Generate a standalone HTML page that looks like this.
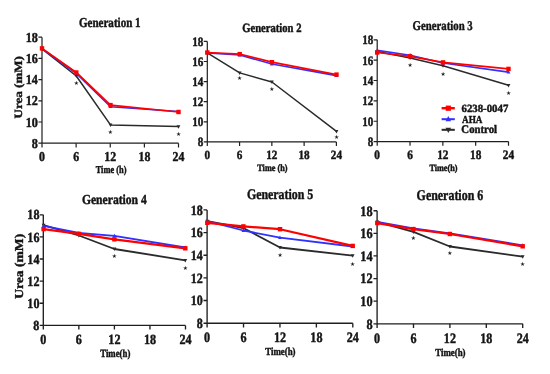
<!DOCTYPE html>
<html><head><meta charset="utf-8"><title>Urea generations</title><style>
html,body{margin:0;padding:0;background:#fff;}
svg{display:block;} text{text-rendering:geometricPrecision;}
text{font-family:"Liberation Serif",serif;font-weight:bold;fill:#141414;stroke:#141414;stroke-width:0.45px;stroke-linejoin:round;}
text.st{font-family:"DejaVu Sans",sans-serif;font-weight:normal;fill:#1e1e1e;stroke:none;}
</style></head><body>
<svg width="550" height="374" viewBox="0 0 550 374">
<rect width="550" height="374" fill="#fff"/>
<path d="M42.0,37.2V143.2M42.0,143.2H178.5" stroke="#1f1f1f" stroke-width="1.2" fill="none"/>
<path d="M38.40,37.20H42.0M38.40,58.40H42.0M38.40,79.60H42.0M38.40,100.80H42.0M38.40,122.00H42.0M38.40,143.20H42.0M42.00,143.2V147.40M76.12,143.2V147.40M110.25,143.2V147.40M144.38,143.2V147.40M178.50,143.2V147.40" stroke="#1f1f1f" stroke-width="1.2" fill="none"/>
<text transform="translate(37.93,41.82) scale(0.89,1)" text-anchor="end" font-size="13.7">18</text>
<text transform="translate(37.93,63.02) scale(0.89,1)" text-anchor="end" font-size="13.7">16</text>
<text transform="translate(37.93,84.22) scale(0.89,1)" text-anchor="end" font-size="13.7">14</text>
<text transform="translate(37.93,105.42) scale(0.89,1)" text-anchor="end" font-size="13.7">12</text>
<text transform="translate(37.93,126.62) scale(0.89,1)" text-anchor="end" font-size="13.7">10</text>
<text transform="translate(37.93,147.82) scale(0.89,1)" text-anchor="end" font-size="13.7">8</text>
<text transform="translate(42.00,160.98) scale(0.88,1)" text-anchor="middle" font-size="13.5">0</text>
<text transform="translate(76.12,160.98) scale(0.88,1)" text-anchor="middle" font-size="13.5">6</text>
<text transform="translate(110.25,160.98) scale(0.88,1)" text-anchor="middle" font-size="13.5">12</text>
<text transform="translate(144.38,160.98) scale(0.88,1)" text-anchor="middle" font-size="13.5">18</text>
<text transform="translate(178.50,160.98) scale(0.88,1)" text-anchor="middle" font-size="13.5">24</text>
<text transform="translate(78.95,26.76) scale(0.813,1)" font-size="13.58">Generation 1</text>
<text transform="translate(95.67,173.30) scale(0.797,1)" font-size="10.53">Time (h)</text>
<polyline points="42.0,48.8 76.3,76.0 110.5,124.9 178.5,126.6" stroke="#2a2a2a" stroke-width="1.5" fill="none" stroke-linejoin="round"/>
<polyline points="42.0,48.6 76.3,73.5 110.5,106.7 178.5,111.5" stroke="#3030ff" stroke-width="1.6" fill="none" stroke-linejoin="round"/>
<polyline points="42.0,48.4 76.3,72.5 110.5,105.1 178.5,112.0" stroke="#ff0000" stroke-width="1.75" fill="none" stroke-linejoin="round"/>
<path d="M40.10,47.38L43.90,47.38L42.00,50.89Z" fill="#2a2a2a"/>
<path d="M74.40,74.58L78.20,74.58L76.30,78.09Z" fill="#2a2a2a"/>
<path d="M108.60,123.48L112.40,123.48L110.50,126.99Z" fill="#2a2a2a"/>
<path d="M176.60,125.17L180.40,125.17L178.50,128.69Z" fill="#2a2a2a"/>
<path d="M42.00,46.51L43.90,50.02L40.10,50.02Z" fill="#3030ff"/>
<path d="M76.30,71.41L78.20,74.92L74.40,74.92Z" fill="#3030ff"/>
<path d="M110.50,104.61L112.40,108.12L108.60,108.12Z" fill="#3030ff"/>
<path d="M178.50,109.41L180.40,112.92L176.60,112.92Z" fill="#3030ff"/>
<rect x="39.80" y="46.20" width="4.40" height="4.40" fill="#ff0000"/>
<rect x="74.10" y="70.30" width="4.40" height="4.40" fill="#ff0000"/>
<rect x="108.30" y="102.90" width="4.40" height="4.40" fill="#ff0000"/>
<rect x="176.30" y="109.80" width="4.40" height="4.40" fill="#ff0000"/>
<text class="st" x="73.69" y="85.28" font-size="5.79">★</text>
<text class="st" x="107.79" y="134.18" font-size="5.79">★</text>
<text class="st" x="175.89" y="135.78" font-size="5.79">★</text>
<path d="M207.3,41.4V141.9M207.3,141.9H336.4" stroke="#1f1f1f" stroke-width="1.2" fill="none"/>
<path d="M203.70,41.40H207.3M203.70,61.50H207.3M203.70,81.60H207.3M203.70,101.70H207.3M203.70,121.80H207.3M203.70,141.90H207.3M207.30,141.9V146.10M239.57,141.9V146.10M271.85,141.9V146.10M304.12,141.9V146.10M336.40,141.9V146.10" stroke="#1f1f1f" stroke-width="1.2" fill="none"/>
<text transform="translate(203.39,45.72) scale(0.87,1)" text-anchor="end" font-size="12.8">18</text>
<text transform="translate(203.39,65.82) scale(0.87,1)" text-anchor="end" font-size="12.8">16</text>
<text transform="translate(203.39,85.92) scale(0.87,1)" text-anchor="end" font-size="12.8">14</text>
<text transform="translate(203.39,106.02) scale(0.87,1)" text-anchor="end" font-size="12.8">12</text>
<text transform="translate(203.39,126.12) scale(0.87,1)" text-anchor="end" font-size="12.8">10</text>
<text transform="translate(203.39,146.22) scale(0.87,1)" text-anchor="end" font-size="12.8">8</text>
<text transform="translate(207.30,158.98) scale(0.89,1)" text-anchor="middle" font-size="12.6">0</text>
<text transform="translate(239.57,158.98) scale(0.89,1)" text-anchor="middle" font-size="12.6">6</text>
<text transform="translate(271.85,158.98) scale(0.89,1)" text-anchor="middle" font-size="12.6">12</text>
<text transform="translate(304.12,158.98) scale(0.89,1)" text-anchor="middle" font-size="12.6">18</text>
<text transform="translate(336.40,158.98) scale(0.89,1)" text-anchor="middle" font-size="12.6">24</text>
<text transform="translate(242.17,31.77) scale(0.837,1)" font-size="12.69">Generation 2</text>
<text transform="translate(257.28,170.80) scale(0.840,1)" font-size="9.77">Time (h)</text>
<polyline points="207.3,52.8 239.7,72.9 271.9,82.0 336.5,131.4" stroke="#2a2a2a" stroke-width="1.5" fill="none" stroke-linejoin="round"/>
<polyline points="207.3,52.9 239.7,55.0 271.9,64.0 336.5,75.6" stroke="#3030ff" stroke-width="1.6" fill="none" stroke-linejoin="round"/>
<polyline points="207.3,52.5 239.7,54.1 271.9,62.2 336.5,74.6" stroke="#ff0000" stroke-width="1.75" fill="none" stroke-linejoin="round"/>
<path d="M205.40,51.38L209.20,51.38L207.30,54.89Z" fill="#2a2a2a"/>
<path d="M237.80,71.48L241.60,71.48L239.70,74.99Z" fill="#2a2a2a"/>
<path d="M270.00,80.58L273.80,80.58L271.90,84.09Z" fill="#2a2a2a"/>
<path d="M334.60,129.97L338.40,129.97L336.50,133.49Z" fill="#2a2a2a"/>
<path d="M207.30,50.81L209.20,54.32L205.40,54.32Z" fill="#3030ff"/>
<path d="M239.70,52.91L241.60,56.42L237.80,56.42Z" fill="#3030ff"/>
<path d="M271.90,61.91L273.80,65.42L270.00,65.42Z" fill="#3030ff"/>
<path d="M336.50,73.51L338.40,77.02L334.60,77.02Z" fill="#3030ff"/>
<rect x="205.10" y="50.30" width="4.40" height="4.40" fill="#ff0000"/>
<rect x="237.50" y="51.90" width="4.40" height="4.40" fill="#ff0000"/>
<rect x="269.70" y="60.00" width="4.40" height="4.40" fill="#ff0000"/>
<rect x="334.30" y="72.40" width="4.40" height="4.40" fill="#ff0000"/>
<text class="st" x="237.09" y="80.48" font-size="5.79">★</text>
<text class="st" x="269.29" y="91.38" font-size="5.79">★</text>
<text class="st" x="333.89" y="139.18" font-size="5.79">★</text>
<path d="M377.2,39.8V141.6M377.2,141.6H508.5" stroke="#1f1f1f" stroke-width="1.2" fill="none"/>
<path d="M373.60,39.80H377.2M373.60,60.16H377.2M373.60,80.52H377.2M373.60,100.88H377.2M373.60,121.24H377.2M373.60,141.60H377.2M377.20,141.6V145.80M410.02,141.6V145.80M442.85,141.6V145.80M475.68,141.6V145.80M508.50,141.6V145.80" stroke="#1f1f1f" stroke-width="1.2" fill="none"/>
<text transform="translate(373.39,44.19) scale(0.85,1)" text-anchor="end" font-size="13.0">18</text>
<text transform="translate(373.39,64.55) scale(0.85,1)" text-anchor="end" font-size="13.0">16</text>
<text transform="translate(373.39,84.91) scale(0.85,1)" text-anchor="end" font-size="13.0">14</text>
<text transform="translate(373.39,105.27) scale(0.85,1)" text-anchor="end" font-size="13.0">12</text>
<text transform="translate(373.39,125.63) scale(0.85,1)" text-anchor="end" font-size="13.0">10</text>
<text transform="translate(373.39,145.99) scale(0.85,1)" text-anchor="end" font-size="13.0">8</text>
<text transform="translate(377.20,159.05) scale(0.87,1)" text-anchor="middle" font-size="13.0">0</text>
<text transform="translate(410.02,159.05) scale(0.87,1)" text-anchor="middle" font-size="13.0">6</text>
<text transform="translate(442.85,159.05) scale(0.87,1)" text-anchor="middle" font-size="13.0">12</text>
<text transform="translate(475.68,159.05) scale(0.87,1)" text-anchor="middle" font-size="13.0">18</text>
<text transform="translate(508.50,159.05) scale(0.87,1)" text-anchor="middle" font-size="13.0">24</text>
<text transform="translate(412.56,30.22) scale(0.807,1)" font-size="13.36">Generation 3</text>
<text transform="translate(429.38,170.80) scale(0.865,1)" font-size="9.47">Time(h)</text>
<polyline points="377.2,51.5 410.1,58.0 443.0,65.7 508.5,85.3" stroke="#2a2a2a" stroke-width="1.5" fill="none" stroke-linejoin="round"/>
<polyline points="377.2,50.4 410.1,55.2 443.0,63.0 508.5,72.1" stroke="#3030ff" stroke-width="1.6" fill="none" stroke-linejoin="round"/>
<polyline points="377.2,52.5 410.1,56.3 443.0,62.4 508.5,68.9" stroke="#ff0000" stroke-width="1.75" fill="none" stroke-linejoin="round"/>
<path d="M375.30,50.08L379.10,50.08L377.20,53.59Z" fill="#2a2a2a"/>
<path d="M408.20,56.58L412.00,56.58L410.10,60.09Z" fill="#2a2a2a"/>
<path d="M441.10,64.28L444.90,64.28L443.00,67.79Z" fill="#2a2a2a"/>
<path d="M506.60,83.88L510.40,83.88L508.50,87.39Z" fill="#2a2a2a"/>
<path d="M377.20,48.31L379.10,51.82L375.30,51.82Z" fill="#3030ff"/>
<path d="M410.10,53.11L412.00,56.62L408.20,56.62Z" fill="#3030ff"/>
<path d="M443.00,60.91L444.90,64.42L441.10,64.42Z" fill="#3030ff"/>
<path d="M508.50,70.01L510.40,73.52L506.60,73.52Z" fill="#3030ff"/>
<rect x="375.00" y="50.30" width="4.40" height="4.40" fill="#ff0000"/>
<rect x="407.90" y="54.10" width="4.40" height="4.40" fill="#ff0000"/>
<rect x="440.80" y="60.20" width="4.40" height="4.40" fill="#ff0000"/>
<rect x="506.30" y="66.70" width="4.40" height="4.40" fill="#ff0000"/>
<text class="st" x="407.49" y="66.88" font-size="5.79">★</text>
<text class="st" x="440.39" y="76.08" font-size="5.79">★</text>
<text class="st" x="505.89" y="94.58" font-size="5.79">★</text>
<path d="M43.3,214.8V325.4M43.3,325.4H185.5" stroke="#1f1f1f" stroke-width="1.35" fill="none"/>
<path d="M39.70,214.80H43.3M39.70,236.92H43.3M39.70,259.04H43.3M39.70,281.16H43.3M39.70,303.28H43.3M39.70,325.40H43.3M43.30,325.4V329.60M78.85,325.4V329.60M114.40,325.4V329.60M149.95,325.4V329.60M185.50,325.4V329.60" stroke="#1f1f1f" stroke-width="1.35" fill="none"/>
<text transform="translate(39.42,219.49) scale(0.87,1)" text-anchor="end" font-size="13.9">18</text>
<text transform="translate(39.42,241.61) scale(0.87,1)" text-anchor="end" font-size="13.9">16</text>
<text transform="translate(39.42,263.73) scale(0.87,1)" text-anchor="end" font-size="13.9">14</text>
<text transform="translate(39.42,285.85) scale(0.87,1)" text-anchor="end" font-size="13.9">12</text>
<text transform="translate(39.42,307.97) scale(0.87,1)" text-anchor="end" font-size="13.9">10</text>
<text transform="translate(39.42,330.09) scale(0.87,1)" text-anchor="end" font-size="13.9">8</text>
<text transform="translate(43.30,343.68) scale(0.86,1)" text-anchor="middle" font-size="14.1">0</text>
<text transform="translate(78.85,343.68) scale(0.86,1)" text-anchor="middle" font-size="14.1">6</text>
<text transform="translate(114.40,343.68) scale(0.86,1)" text-anchor="middle" font-size="14.1">12</text>
<text transform="translate(149.95,343.68) scale(0.86,1)" text-anchor="middle" font-size="14.1">18</text>
<text transform="translate(185.50,343.68) scale(0.86,1)" text-anchor="middle" font-size="14.1">24</text>
<text transform="translate(81.92,203.96) scale(0.847,1)" font-size="13.73">Generation 4</text>
<text transform="translate(100.17,356.70) scale(0.802,1)" font-size="10.99">Time(h)</text>
<polyline points="43.6,225.2 78.9,235.5 114.4,249.0 185.3,260.3" stroke="#2a2a2a" stroke-width="1.8" fill="none" stroke-linejoin="round"/>
<polyline points="43.6,225.9 78.9,233.0 114.4,235.9 185.3,247.5" stroke="#3030ff" stroke-width="1.8" fill="none" stroke-linejoin="round"/>
<polyline points="43.6,229.1 78.9,233.9 114.4,239.3 185.3,248.3" stroke="#ff0000" stroke-width="2.2" fill="none" stroke-linejoin="round"/>
<path d="M41.70,223.77L45.50,223.77L43.60,227.29Z" fill="#2a2a2a"/>
<path d="M77.00,234.07L80.80,234.07L78.90,237.59Z" fill="#2a2a2a"/>
<path d="M112.50,247.57L116.30,247.57L114.40,251.09Z" fill="#2a2a2a"/>
<path d="M183.40,258.88L187.20,258.88L185.30,262.39Z" fill="#2a2a2a"/>
<path d="M43.60,223.81L45.50,227.33L41.70,227.33Z" fill="#3030ff"/>
<path d="M78.90,230.91L80.80,234.43L77.00,234.43Z" fill="#3030ff"/>
<path d="M114.40,233.81L116.30,237.33L112.50,237.33Z" fill="#3030ff"/>
<path d="M185.30,245.41L187.20,248.93L183.40,248.93Z" fill="#3030ff"/>
<rect x="41.40" y="226.90" width="4.40" height="4.40" fill="#ff0000"/>
<rect x="76.70" y="231.70" width="4.40" height="4.40" fill="#ff0000"/>
<rect x="112.20" y="237.10" width="4.40" height="4.40" fill="#ff0000"/>
<rect x="183.10" y="246.10" width="4.40" height="4.40" fill="#ff0000"/>
<text class="st" x="111.79" y="258.38" font-size="5.79">★</text>
<text class="st" x="182.69" y="269.58" font-size="5.79">★</text>
<path d="M207.1,209.9V323.2M207.1,323.2H352.8" stroke="#1f1f1f" stroke-width="1.35" fill="none"/>
<path d="M203.50,209.90H207.1M203.50,232.56H207.1M203.50,255.22H207.1M203.50,277.88H207.1M203.50,300.54H207.1M203.50,323.20H207.1M207.10,323.2V327.40M243.53,323.2V327.40M279.95,323.2V327.40M316.38,323.2V327.40M352.80,323.2V327.40" stroke="#1f1f1f" stroke-width="1.35" fill="none"/>
<text transform="translate(202.82,214.69) scale(0.85,1)" text-anchor="end" font-size="14.2">18</text>
<text transform="translate(202.82,237.35) scale(0.85,1)" text-anchor="end" font-size="14.2">16</text>
<text transform="translate(202.82,260.01) scale(0.85,1)" text-anchor="end" font-size="14.2">14</text>
<text transform="translate(202.82,282.67) scale(0.85,1)" text-anchor="end" font-size="14.2">12</text>
<text transform="translate(202.82,305.33) scale(0.85,1)" text-anchor="end" font-size="14.2">10</text>
<text transform="translate(202.82,327.99) scale(0.85,1)" text-anchor="end" font-size="14.2">8</text>
<text transform="translate(207.10,342.28) scale(0.845,1)" text-anchor="middle" font-size="14.4">0</text>
<text transform="translate(243.53,342.28) scale(0.845,1)" text-anchor="middle" font-size="14.4">6</text>
<text transform="translate(279.95,342.28) scale(0.845,1)" text-anchor="middle" font-size="14.4">12</text>
<text transform="translate(316.38,342.28) scale(0.845,1)" text-anchor="middle" font-size="14.4">18</text>
<text transform="translate(352.80,342.28) scale(0.845,1)" text-anchor="middle" font-size="14.4">24</text>
<text transform="translate(246.91,199.25) scale(0.813,1)" font-size="14.63">Generation 5</text>
<text transform="translate(265.17,355.30) scale(0.819,1)" font-size="10.84">Time(h)</text>
<polyline points="207.3,221.1 243.4,228.0 280.0,247.5 352.7,255.6" stroke="#2a2a2a" stroke-width="1.8" fill="none" stroke-linejoin="round"/>
<polyline points="207.3,221.1 243.4,230.5 280.0,237.6 352.7,246.5" stroke="#3030ff" stroke-width="1.8" fill="none" stroke-linejoin="round"/>
<polyline points="207.3,222.8 243.4,226.4 280.0,229.2 352.7,245.9" stroke="#ff0000" stroke-width="2.2" fill="none" stroke-linejoin="round"/>
<path d="M205.40,219.67L209.20,219.67L207.30,223.19Z" fill="#2a2a2a"/>
<path d="M241.50,226.57L245.30,226.57L243.40,230.09Z" fill="#2a2a2a"/>
<path d="M278.10,246.07L281.90,246.07L280.00,249.59Z" fill="#2a2a2a"/>
<path d="M350.80,254.17L354.60,254.17L352.70,257.69Z" fill="#2a2a2a"/>
<path d="M207.30,219.01L209.20,222.53L205.40,222.53Z" fill="#3030ff"/>
<path d="M243.40,228.41L245.30,231.93L241.50,231.93Z" fill="#3030ff"/>
<path d="M280.00,235.51L281.90,239.03L278.10,239.03Z" fill="#3030ff"/>
<path d="M352.70,244.41L354.60,247.93L350.80,247.93Z" fill="#3030ff"/>
<rect x="205.10" y="220.60" width="4.40" height="4.40" fill="#ff0000"/>
<rect x="241.20" y="224.20" width="4.40" height="4.40" fill="#ff0000"/>
<rect x="277.80" y="227.00" width="4.40" height="4.40" fill="#ff0000"/>
<rect x="350.50" y="243.70" width="4.40" height="4.40" fill="#ff0000"/>
<text class="st" x="277.39" y="257.18" font-size="5.79">★</text>
<text class="st" x="350.09" y="265.68" font-size="5.79">★</text>
<path d="M377.1,210.7V323.8M377.1,323.8H522.7" stroke="#1f1f1f" stroke-width="1.35" fill="none"/>
<path d="M373.50,210.70H377.1M373.50,233.32H377.1M373.50,255.94H377.1M373.50,278.56H377.1M373.50,301.18H377.1M373.50,323.80H377.1M377.10,323.8V328.00M413.50,323.8V328.00M449.90,323.8V328.00M486.30,323.8V328.00M522.70,323.8V328.00" stroke="#1f1f1f" stroke-width="1.35" fill="none"/>
<text transform="translate(372.63,215.56) scale(0.855,1)" text-anchor="end" font-size="14.4">18</text>
<text transform="translate(372.63,238.18) scale(0.855,1)" text-anchor="end" font-size="14.4">16</text>
<text transform="translate(372.63,260.80) scale(0.855,1)" text-anchor="end" font-size="14.4">14</text>
<text transform="translate(372.63,283.42) scale(0.855,1)" text-anchor="end" font-size="14.4">12</text>
<text transform="translate(372.63,306.04) scale(0.855,1)" text-anchor="end" font-size="14.4">10</text>
<text transform="translate(372.63,328.66) scale(0.855,1)" text-anchor="end" font-size="14.4">8</text>
<text transform="translate(377.10,342.88) scale(0.84,1)" text-anchor="middle" font-size="14.4">0</text>
<text transform="translate(413.50,342.88) scale(0.84,1)" text-anchor="middle" font-size="14.4">6</text>
<text transform="translate(449.90,342.88) scale(0.84,1)" text-anchor="middle" font-size="14.4">12</text>
<text transform="translate(486.30,342.88) scale(0.84,1)" text-anchor="middle" font-size="14.4">18</text>
<text transform="translate(522.70,342.88) scale(0.84,1)" text-anchor="middle" font-size="14.4">24</text>
<text transform="translate(416.60,200.15) scale(0.800,1)" font-size="14.93">Generation 6</text>
<text transform="translate(435.17,355.80) scale(0.830,1)" font-size="10.69">Time(h)</text>
<polyline points="377.3,221.8 413.4,231.8 449.9,246.5 522.7,256.6" stroke="#2a2a2a" stroke-width="1.8" fill="none" stroke-linejoin="round"/>
<polyline points="377.3,221.8 413.4,228.5 449.9,233.5 522.7,245.3" stroke="#3030ff" stroke-width="1.8" fill="none" stroke-linejoin="round"/>
<polyline points="377.3,223.1 413.4,229.1 449.9,234.0 522.7,246.3" stroke="#ff0000" stroke-width="2.2" fill="none" stroke-linejoin="round"/>
<path d="M375.40,220.38L379.20,220.38L377.30,223.89Z" fill="#2a2a2a"/>
<path d="M411.50,230.38L415.30,230.38L413.40,233.89Z" fill="#2a2a2a"/>
<path d="M448.00,245.07L451.80,245.07L449.90,248.59Z" fill="#2a2a2a"/>
<path d="M520.80,255.18L524.60,255.18L522.70,258.69Z" fill="#2a2a2a"/>
<path d="M377.30,219.71L379.20,223.23L375.40,223.23Z" fill="#3030ff"/>
<path d="M413.40,226.41L415.30,229.93L411.50,229.93Z" fill="#3030ff"/>
<path d="M449.90,231.41L451.80,234.93L448.00,234.93Z" fill="#3030ff"/>
<path d="M522.70,243.21L524.60,246.73L520.80,246.73Z" fill="#3030ff"/>
<rect x="375.10" y="220.90" width="4.40" height="4.40" fill="#ff0000"/>
<rect x="411.20" y="226.90" width="4.40" height="4.40" fill="#ff0000"/>
<rect x="447.70" y="231.80" width="4.40" height="4.40" fill="#ff0000"/>
<rect x="520.50" y="244.10" width="4.40" height="4.40" fill="#ff0000"/>
<text class="st" x="410.79" y="240.28" font-size="5.79">★</text>
<text class="st" x="447.29" y="255.48" font-size="5.79">★</text>
<text class="st" x="520.09" y="265.68" font-size="5.79">★</text>
<text transform="translate(21.70,118.43) scale(0.854,1) rotate(-90)" font-size="13.04">Urea (mM)</text>
<text transform="translate(22.50,298.74) scale(0.889,1) rotate(-90)" font-size="13.57">Urea (mM)</text>
<path d="M441.6,108.2H454.8" stroke="#ff0000" stroke-width="2.4"/>
<rect x="445.70" y="105.60" width="5.20" height="5.20" fill="#ff0000"/>
<text transform="translate(461.52,111.59) scale(0.986,1)" font-size="10.96">6238-0047</text>
<path d="M441.6,119.2H454.8" stroke="#3030ff" stroke-width="2.0"/>
<path d="M448.30,116.12L451.10,121.30L445.50,121.30Z" fill="#3030ff"/>
<text transform="translate(462.01,123.00) scale(0.864,1)" font-size="10.61">AHA</text>
<path d="M441.6,129.8H454.8" stroke="#2a2a2a" stroke-width="2.0"/>
<path d="M445.50,127.70L451.10,127.70L448.30,132.88Z" fill="#2a2a2a"/>
<text transform="translate(461.36,133.28) scale(0.926,1)" font-size="11.64">Control</text>
</svg>
</body></html>
